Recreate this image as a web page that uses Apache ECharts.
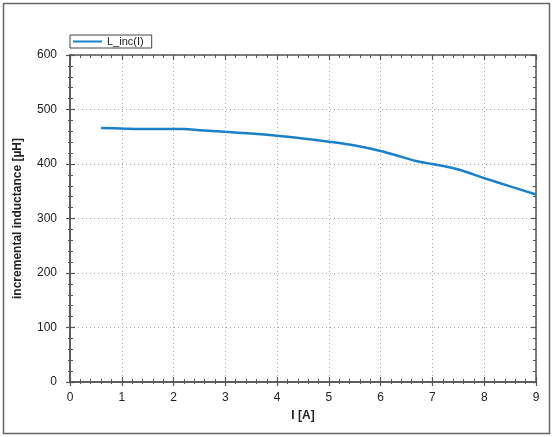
<!DOCTYPE html>
<html>
<head>
<meta charset="utf-8">
<script src="https://cdn.jsdelivr.net/npm/echarts@6/dist/echarts.min.js"></script>
<style>
  html, body { margin: 0; padding: 0; background: #fff; }
  #chart { width: 554px; height: 437px; }
</style>
</head>
<body>
<div id="chart"></div>
<script>
// current values [A]
const currentA = [0.6, 1, 1.5, 2, 2.2, 2.5, 3, 3.5, 4, 4.5, 5, 5.5, 6, 6.4, 6.7, 7, 7.5, 8, 8.5, 9]
// incremental inductance [µH]
const inductance = [466, 465, 464, 464, 464, 462, 459, 456, 452, 447, 441, 434, 424, 413, 405, 400, 390, 374, 359, 344]
const seriesName = 'L_inc(I)'

const lineColor = '#1a80c8'
const axisColor = '#555'
const font = 'Liberation Sans, Arial'

let chart = echarts.init(document.getElementById('chart'))

function axisBase(show, inside) {
  return {
    type: 'value',
    axisLine: { show: true, onZero: false, lineStyle: { color: axisColor, width: 1.5 } },
    axisTick: { show: true, inside: inside, length: inside ? 5 : 4, lineStyle: { color: axisColor, width: 1.2 } },
    minorTick: { show: true, splitNumber: 5, length: inside ? 3 : 2, lineStyle: { color: axisColor, width: 1 } },
    axisLabel: { show: show, color: '#222', fontSize: 12, fontFamily: font },
    splitLine: { show: false }
  }
}

let xBottom = Object.assign(axisBase(true, true), {
  min: 0, max: 9, interval: 1, position: 'bottom',
  name: 'I [A]', nameLocation: 'middle', nameGap: 28,
  nameTextStyle: { color: '#222', fontSize: 12, fontWeight: 'bold', fontFamily: font },
  splitLine: { show: true, lineStyle: { color: '#aaa', type: [1, 3], width: 1 } }
})
xBottom.axisLabel.margin = 10

// outer half of the crossing ticks on the bottom axis
let xBottomOut = Object.assign(axisBase(false, false), { min: 0, max: 9, interval: 1, position: 'bottom' })

let xTop = Object.assign(axisBase(false, true), { min: 0, max: 9, interval: 1, position: 'top' })

let yLeft = Object.assign(axisBase(true, true), {
  min: 0, max: 600, interval: 100, position: 'left',
  name: 'incremental inductance [µH]', nameLocation: 'middle', nameGap: 46,
  nameTextStyle: { color: '#222', fontSize: 12, fontWeight: 'bold', fontFamily: font },
  splitLine: { show: true, lineStyle: { color: '#aaa', type: [1, 3], width: 1 } }
})
yLeft.axisLabel.margin = 13

let yLeftOut = Object.assign(axisBase(false, false), { min: 0, max: 600, interval: 100, position: 'left' })

let yRight = Object.assign(axisBase(false, true), { min: 0, max: 600, interval: 100, position: 'right' })

let option = {
  animation: false,
  grid: { left: 70, right: 18, top: 55, bottom: 55 },
  legend: {
    data: [seriesName],
    left: 70, top: 35,
    padding: [1, 8, 1, 3],
    itemWidth: 29, itemHeight: 2, itemGap: 0,
    icon: 'rect',
    borderColor: '#444', borderWidth: 1,
    textStyle: { color: '#222', fontSize: 11, fontFamily: font }
  },
  graphic: [{
    type: 'rect',
    shape: { x: 3.5, y: 3.5, width: 546, height: 430 },
    style: { fill: 'none', stroke: '#666', lineWidth: 1.5 },
    silent: true
  }],
  xAxis: [xBottom, xTop, xBottomOut],
  yAxis: [yLeft, yRight, yLeftOut],
  series: [
    {
      name: seriesName,
      type: 'line',
      xAxisIndex: 0,
      yAxisIndex: 0,
      showSymbol: false,
      smooth: 0.3,
      lineStyle: { color: lineColor, width: 2.5 },
      itemStyle: { color: lineColor },
      data: currentA.map((x, i) => [x, inductance[i]])
    }
  ]
}

chart.setOption(option)
</script>
</body>
</html>
